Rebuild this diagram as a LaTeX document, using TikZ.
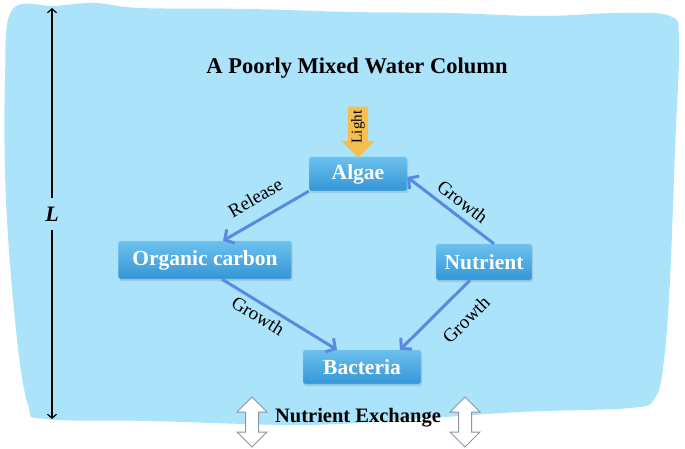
\documentclass[tikz,border=0pt]{standalone}
\usepackage{fontspec}
\setmainfont{Liberation Serif}
\usetikzlibrary{positioning, arrows.meta, shapes.arrows, shadows}
\definecolor{water}{RGB}{170,227,250}
\definecolor{boxtop}{RGB}{108,193,238}
\definecolor{boxbot}{RGB}{52,150,214}
\definecolor{flowblue}{RGB}{88,138,226}
\definecolor{sunny}{RGB}{246,190,78}
\definecolor{hollow}{RGB}{140,150,160}
\tikzset{
  box/.style={
    rectangle,
    rounded corners=2pt,
    top color=boxtop,
    bottom color=boxbot,
    draw=boxtop!70!white,
    text=white,
    inner sep=0pt,
    font=\fontsize{21.5}{23}\selectfont\bfseries,
    drop shadow={shadow xshift=1pt, shadow yshift=-2pt, opacity=0.25}
  },
  flow/.style={
    draw=flowblue,
    line width=3pt,
    -{Straight Barb[length=7pt, width=16pt]}
  },
  lbl/.style={
    sloped,
    font=\fontsize{19}{21}\selectfont
  },
  exch/.style={
    double arrow,
    rotate=90,
    draw=hollow,
    fill=white,
    line width=1pt,
    minimum height=50pt,
    inner sep=6pt,
    double arrow head extend=8.5pt
  }
}

\begin{document}
\begin{tikzpicture}[x=1pt, y=-1pt]
    \useasboundingbox (0,0) rectangle (685,449);
    % the water column
    \fill[water] plot[smooth cycle, tension=0.6] coordinates {(12,10) (55,6) (95,3) (140,8) (250,9) (350,12) (450,13) (540,16) (620,13) (670,16) (679,40) (675,150) (670,280) (664,360) (655,398) (630,408) (520,412) (400,420) (300,425) (150,421) (45,419) (28,405) (16,330) (6,200) (5,80)};

    \node[font=\fontsize{22.5}{24}\selectfont\bfseries] (title) at (357,68) {A Poorly Mixed Water Column};

    \node[box, minimum width=98pt, minimum height=34pt] (algae) at (358,174) {Algae};
    \node[box, minimum width=173pt, minimum height=38pt] (carbon) at (205,260) {Organic carbon};
    \node[box, minimum width=96pt, minimum height=36pt] (nutrient) at (484,262) {Nutrient};
    \node[box, minimum width=118pt, minimum height=34pt] (bacteria) at (362,367) {Bacteria};

    \node[single arrow, shape border rotate=180, rotate=90, fill=sunny, minimum height=51pt,
          single arrow head extend=6.5pt, inner xsep=2pt, inner ysep=3pt,
          font=\fontsize{15}{16}\selectfont] (light) at (358,127) {Light};

    \draw[flow] (algae.south west) -- node[lbl, pos=0.5, above, inner sep=13pt] {Release} ([xshift=18pt]carbon.north);
    \draw[flow] ([xshift=10pt]nutrient.north) -- node[lbl, pos=0.46, above, inner sep=6pt] {Growth} ([yshift=-3pt]algae.east);
    \draw[flow] ([xshift=17pt]carbon.south) -- node[lbl, pos=0.37, below, inner sep=4pt] {Growth} ([xshift=-25pt]bacteria.north);
    \draw[flow] ([xshift=-14pt]nutrient.south) -- node[lbl, pos=0.31, below, inner sep=17pt] {Growth} ([xshift=38pt]bacteria.north);

    % depth of the column
    \coordinate (ltop) at (52,8);
    \coordinate (lbot) at (52,419);
    \node[font=\fontsize{22}{24}\selectfont\bfseries\itshape, inner sep=9pt] (len) at (52,214) {L};
    \draw[line width=1.2pt, -{Straight Barb[length=4pt, width=9pt]}] (len) -- (ltop);
    \draw[line width=1.2pt, -{Straight Barb[length=4pt, width=9pt]}] (len) -- (lbot);

    \node[font=\fontsize{20.5}{22}\selectfont\bfseries] (exchange) at (358,418) {Nutrient Exchange};
    \node[exch] (exleft) at (252,422) {};
    \node[exch] (exright) at (465,422) {};
\end{tikzpicture}
\end{document}
